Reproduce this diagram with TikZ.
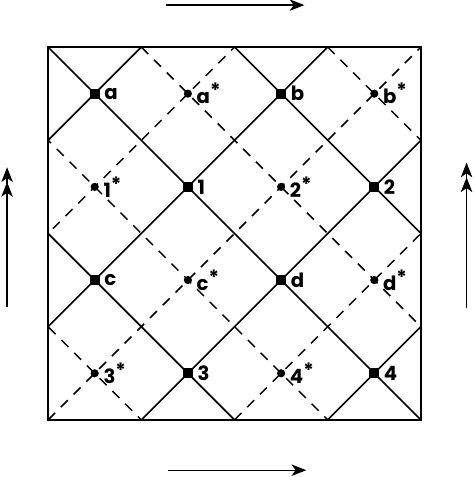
\documentclass[tikz,border=0pt]{standalone}
\usepackage{fontspec}
\setmainfont{Poppins}
\usetikzlibrary{arrows.meta, positioning}
\newcommand{\dualmark}{\raisebox{0.55ex}{*}}
\tikzset{
  cell line/.style={line width=1pt},
  dual line/.style={line width=0.9pt, dash pattern=on 6pt off 5pt},
  fixpt/.style={fill, rectangle, inner sep=0pt, minimum size=6pt},
  dualpt/.style={fill, circle, inner sep=0pt, minimum size=5pt},
  ptlabel/.style={font=\fontsize{12}{14}\selectfont\bfseries, inner sep=1pt},
  glue arrow/.style={line width=0.8pt}
}

\begin{document}
\begin{tikzpicture}[>={Stealth[length=9pt, width=7pt, inset=2.5pt]}, x=2cm, y=2cm, every label/.style={ptlabel}, label distance=1.5pt]
\useasboundingbox (-0.516,-0.613) rectangle (4.58,4.505);
\draw[cell line] (0,0) rectangle (4,4);
\begin{scope}
\clip (0,0) rectangle (4,4);
\foreach \c in {2,4,6} \draw[cell line] (\c-4,4) -- (\c,0);
\foreach \c in {-3,-1,1,3} \draw[cell line] (\c,0) -- (\c+4,4);
\foreach \c in {1,3,5,7} \draw[dual line] (\c-4,4) -- (\c,0);
\foreach \c in {-2,0,2} \draw[dual line] (\c,0) -- (\c+4,4);
\end{scope}
\node[fixpt, label={right:a}] (a) at (0.5,3.5) {};
\node[dualpt, label={right:a\dualmark}] (as) at (1.5,3.5) {};
\node[fixpt, label={right:b}] (b) at (2.5,3.5) {};
\node[dualpt, label={right:b\dualmark}] (bs) at (3.5,3.5) {};
\node[dualpt, label={right:1\dualmark}] (p1s) at (0.5,2.5) {};
\node[fixpt, label={right:1}] (p1) at (1.5,2.5) {};
\node[dualpt, label={right:2\dualmark}] (p2s) at (2.5,2.5) {};
\node[fixpt, label={right:2}] (p2) at (3.5,2.5) {};
\node[fixpt, label={right:c}] (c) at (0.5,1.5) {};
\node[dualpt, label={right:c\dualmark}] (cs) at (1.5,1.5) {};
\node[fixpt, label={right:d}] (d) at (2.5,1.5) {};
\node[dualpt, label={right:d\dualmark}] (ds) at (3.5,1.5) {};
\node[dualpt, label={right:3\dualmark}] (p3s) at (0.5,0.5) {};
\node[fixpt, label={right:3}] (p3) at (1.5,0.5) {};
\node[dualpt, label={right:4\dualmark}] (p4s) at (2.5,0.5) {};
\node[fixpt, label={right:4}] (p4) at (3.5,0.5) {};
\coordinate (top tail) at (1.27,4.45);
\coordinate (top head) at (2.75,4.45);
\coordinate (bot tail) at (1.29,-0.54);
\coordinate (bot head) at (2.77,-0.54);
\coordinate (left tail) at (-0.44,1.21);
\coordinate (left head) at (-0.44,2.71);
\coordinate (right tail) at (4.49,1.20);
\coordinate (right head) at (4.49,2.76);
\draw[->, glue arrow] (top tail) -- (top head);
\draw[->, glue arrow] (bot tail) -- (bot head);
\draw[->>, glue arrow] (left tail) -- (left head);
\draw[->>, glue arrow] (right tail) -- (right head);
\end{tikzpicture}
\end{document}
